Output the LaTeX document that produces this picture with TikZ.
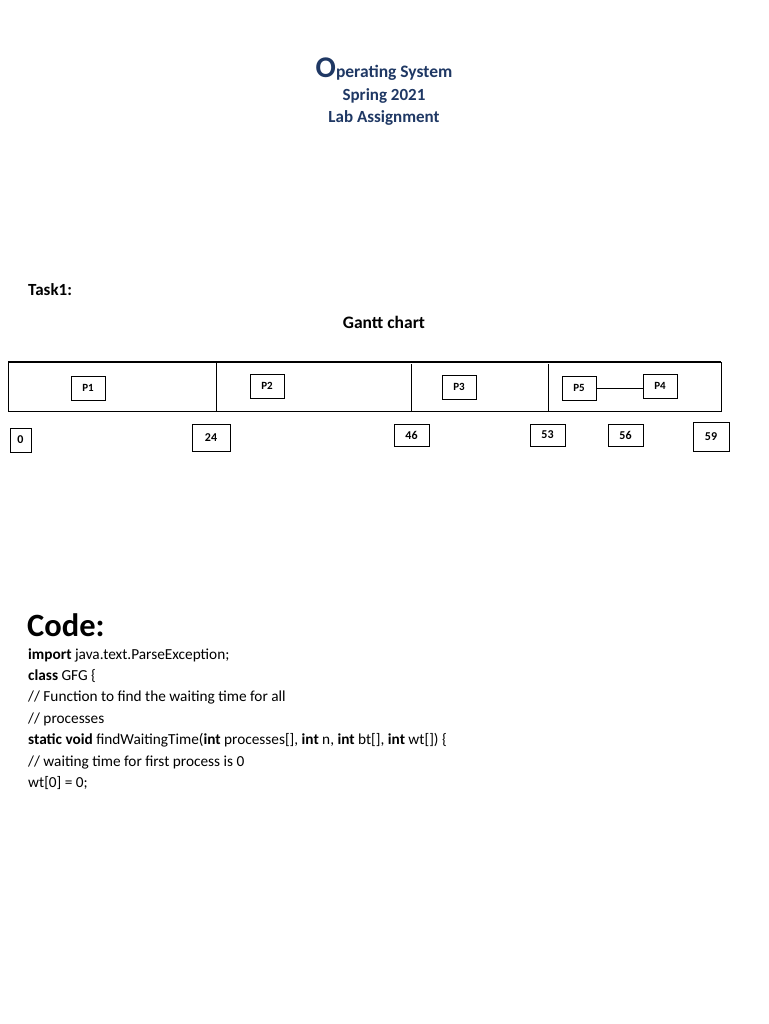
\documentclass[tikz,border=0pt]{standalone}
\usepackage{fontspec}
\setmainfont{Carlito}
\definecolor{navy}{HTML}{1F3864}
\begin{document}
\begin{tikzpicture}[x=1pt,y=-1pt,
  pbox/.style={draw,thick,minimum width=34pt,minimum height=24pt,font=\fontsize{11}{12}\selectfont\bfseries,inner sep=0pt},
  nbox/.style={draw,thick,minimum height=24pt,font=\fontsize{12}{13}\selectfont\bfseries,inner sep=0pt},
  code/.style={anchor=west,font=\fontsize{15.3}{17}\selectfont,inner sep=0pt}]
\useasboundingbox (0,0) rectangle (768,1024);
\node[navy,font=\bfseries] (t1) at (384,69) {{\fontsize{30}{30}\selectfont O}{\fontsize{17.5}{19}\selectfont perating System}};
\node[navy,font=\fontsize{17}{19}\selectfont\bfseries] (t2) at (384,96) {Spring 2021};
\node[navy,font=\fontsize{17}{19}\selectfont\bfseries] (t3) at (384,118) {Lab Assignment};
\node[anchor=west,font=\fontsize{17}{19}\selectfont\bfseries,inner sep=0pt] (task) at (28,290) {Task1:};
\node[font=\fontsize{17.5}{19}\selectfont\bfseries] (gc) at (384,322) {Gantt chart};
\draw[line width=1.5pt] (8,362) -- (721,362);
\draw[thick] (8,362) -- (8,411) -- (721,411) -- (721,362);
\draw (216,362) -- (216,411);
\draw (411,364) -- (411,411);
\draw (548,364) -- (548,411);
\node[pbox] (p1) at (88,388) {P1};
\node[pbox] (p2) at (267,386) {P2};
\node[pbox] (p3) at (459,387) {P3};
\node[pbox] (p5) at (579,388) {P5};
\node[pbox] (p4) at (660,386) {P4};
\draw (p5.east) -- (p5.east -| p4.west);
\node[nbox,minimum width=21pt] (n0) at (20.5,440) {0};
\node[nbox,minimum width=38pt,minimum height=27pt] (n24) at (211,437.5) {24};
\node[nbox,minimum width=35pt,minimum height=22pt] (n46) at (411.5,435) {46};
\node[nbox,minimum width=35pt,minimum height=22pt] (n53) at (547.5,435) {53};
\node[nbox,minimum width=35pt,minimum height=22pt] (n56) at (625.5,435) {56};
\node[nbox,minimum width=36pt,minimum height=29pt] (n59) at (711,436.5) {59};
\node[anchor=west,font=\fontsize{32.5}{34}\selectfont\bfseries,inner sep=0pt] (cd) at (27,625) {Code:};
\node[code] (c1) at (28,655) {\textbf{import} java.text.ParseException;};
\node[code] (c2) at (28,676) {\textbf{class} GFG \{};
\node[code] (c3) at (28,697) {// Function to find the waiting time for all};
\node[code] (c4) at (28,719) {// processes};
\node[code] (c5) at (28,740) {\textbf{static void} findWaitingTime(\textbf{int} processes[], \textbf{int} n, \textbf{int} bt[], \textbf{int} wt[]) \{};
\node[code] (c6) at (28,762) {// waiting time for first process is 0};
\node[code] (c7) at (28,783) {wt[0] = 0;};
\end{tikzpicture}
\end{document}
